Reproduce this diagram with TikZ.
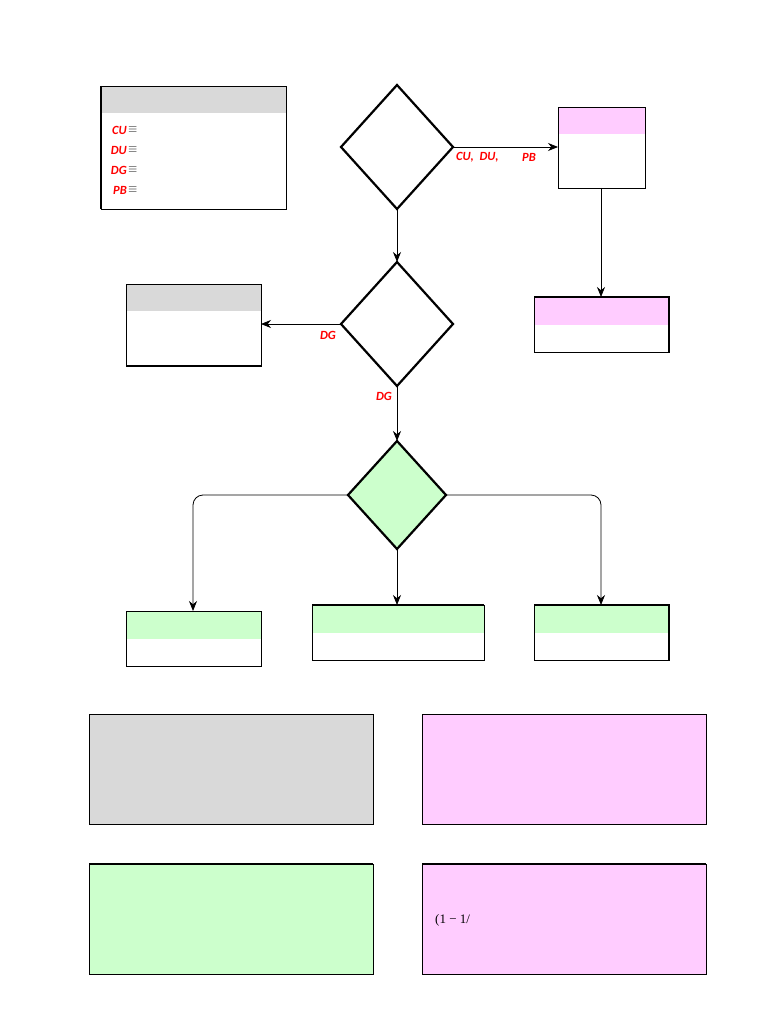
\documentclass[tikz,border=0pt]{standalone}
\usepackage{fontspec}
\setmainfont{Liberation Serif}
\newfontfamily\lab{Carlito}
\usetikzlibrary{arrows.meta}
\definecolor{hgray}{HTML}{D9D9D9}
\definecolor{hpink}{HTML}{FFCCFF}
\definecolor{hgreen}{HTML}{CCFFCC}
\begin{document}
\begin{tikzpicture}[x=1pt,y=-1pt,
  dia/.style={draw,line width=2.2pt},
  box/.style={draw,line width=0.8pt},
  arr/.style={draw,line width=0.8pt,-{Stealth[length=10pt,width=8pt]}},
  lbl/.style={text=red,font=\lab\bfseries\itshape\fontsize{12.5}{14}\selectfont,inner sep=0pt},
  eq/.style={font=\fontsize{13}{14}\selectfont,inner sep=0pt}]
\useasboundingbox (0,0) rectangle (768,1024);
% legend
\fill[hgray] (101,86) rectangle (286,113);
\draw[box] (101,86) rectangle (286,209);
\draw[line width=1.4pt] (101,86) -- (101,209);
\foreach \t/\y in {CU/130,DU/150,DG/170,PB/190}{
  \node[lbl,anchor=east] (l\t) at (127,\y) {\t};
  \node[eq,anchor=west] at ([xshift=1pt]l\t.east) {$\equiv$};}
% diamonds
\draw[dia] (397,85) -- (453,147) -- (397,209) -- (341,147) -- cycle;
\coordinate (d1r) at (453,147); \coordinate (d1b) at (397,209);
\draw[dia] (397,262) -- (453,324) -- (397,386) -- (341,324) -- cycle;
\coordinate (d2t) at (397,262); \coordinate (d2l) at (341,324); \coordinate (d2b) at (397,386);
\draw[dia,fill=hgreen] (397,441) -- (446,495) -- (397,549) -- (348,495) -- cycle;
\coordinate (d3t) at (397,441); \coordinate (d3l) at (348,495); \coordinate (d3r) at (446,495); \coordinate (d3b) at (397,549);
% pink box top right
\fill[hpink] (558,107) rectangle (645,134);
\draw[box] (558,107) rectangle (645,188);
\coordinate (p1l) at (558,147); \coordinate (p1b) at (601,188);
% pink box 2
\fill[hpink] (534,297) rectangle (669,325);
\draw[box] (534,297) rectangle (669,352);
\draw[line width=1.6pt] (534,297) -- (669,297) -- (669,352);
\coordinate (p2t) at (601,297);
% gray box 2
\fill[hgray] (126,284) rectangle (261,311);
\draw[box] (126,284) rectangle (261,366);
\draw[line width=1.6pt] (126,366) -- (261,366);
\coordinate (g2r) at (261,324);
% green boxes
\fill[hgreen] (126,611) rectangle (261,639);
\draw[box] (126,611) rectangle (261,666);
\coordinate (gb1) at (193,611);
\fill[hgreen] (312,605) rectangle (484,633);
\draw[box] (312,605) rectangle (484,660);
\draw[line width=1.6pt] (312,605) -- (484,605);
\coordinate (gb2) at (397,605);
\fill[hgreen] (534,605) rectangle (669,633);
\draw[box] (534,605) rectangle (669,660);
\draw[line width=1.6pt] (534,605) -- (669,605) -- (669,660);
\coordinate (gb3) at (601,605);
% arrows
\draw[arr] (d1r) -- (p1l);
\node[lbl,anchor=west] at (456,157) {CU,\ \ DU,};
\node[lbl,anchor=west] at (522,157) {PB};
\draw[arr] (d1b) -- (d2t);
\draw[arr] (p1b) -- (p2t);
\draw[arr] (d2l) -- (g2r);
\node[lbl] at (328,335) {DG};
\draw[arr] (d2b) -- (d3t);
\node[lbl] at (384,396) {DG};
\draw[arr,rounded corners=10pt] (d3l) -- (193,495) -- (gb1);
\draw[arr] (d3b) -- (gb2);
\draw[arr,rounded corners=10pt] (d3r) -- (601,495) -- (gb3);
% bottom boxes
\draw[box,fill=hgray] (89,714) rectangle (373,824);
\draw[box,fill=hpink] (422,714) rectangle (706,824);
\draw[box,fill=hgreen] (89,864) rectangle (373,974);
\draw[line width=1.6pt] (89,864) -- (373,864);
\draw[box,fill=hpink] (422,864) rectangle (706,974);
\draw[line width=1.6pt] (422,864) -- (706,864);
\node[font=\fontsize{13}{15}\selectfont,anchor=west,inner sep=0pt] (frac) at (435,920) {(1 − 1/};
\end{tikzpicture}
\end{document}
